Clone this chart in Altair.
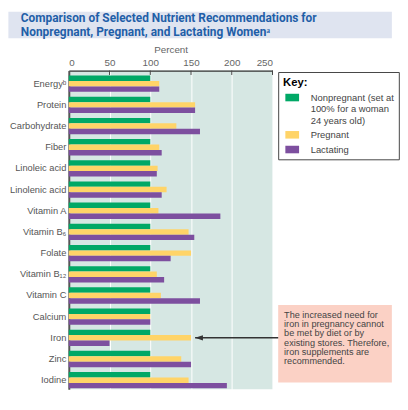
import pandas as pd
import altair as alt

# values (percent of the nonpregnant recommendation)
nutrients = ["Energyᵇ", "Protein", "Carbohydrate", "Fiber", "Linoleic acid",
             "Linolenic acid", "Vitamin A", "Vitamin B₆", "Folate", "Vitamin B₁₂",
             "Vitamin C", "Calcium", "Iron", "Zinc", "Iodine"]
nonpregnant = [100, 100, 100, 100, 100, 100, 100, 100, 100, 100, 100, 100, 100, 100, 100]
pregnant = [111, 155, 132, 111, 109, 120, 110, 147, 150, 108, 113, 100, 150, 138, 147]
lactating = [111, 155, 161, 114, 108, 114, 186, 154, 125, 117, 161, 100, 50, 150, 194]

groups = ["Nonpregnant", "Pregnant", "Lactating"]
group_colors = ["#00a866", "#ffd468", "#7d4f9f"]
key_lines = ["Nonpregnant (set at", "100% for a woman", "24 years old)"]
percent_ticks = [0, 50, 100, 150, 200, 250]

title_lines = ["Comparison of Selected Nutrient Recommendations for",
               "Nonpregnant, Pregnant, and Lactating Womenᵃ"]
note_lines = ["The increased need for", "iron in pregnancy cannot",
              "be met by diet or by", "existing stores. Therefore,",
              "iron supplements are", "recommended."]
note_nutrient = "Iron"
note_group = "Pregnant"
note_value = 155

FONT = "Liberation Sans"

# long table for the bars
rows = []
for g, vals in zip(groups, [nonpregnant, pregnant, lactating]):
    for n, v in zip(nutrients, vals):
        rows.append({"nutrient": n, "group": g, "v": v})
bars_df = pd.DataFrame(rows)

x_enc = alt.X(
    "v:Q",
    scale=alt.Scale(domain=[0, 250], nice=False),
    axis=alt.Axis(orient="top", values=percent_ticks, title="Percent", grid=True,
                  gridColor="white", gridWidth=1, ticks=False, domainColor="#333",
                  domainWidth=1.2, labelFont=FONT, labelFontSize=10, labelColor="#666",
                  labelPadding=3.5, titleFont=FONT, titleFontSize=10,
                  titleFontWeight="normal", titleColor="#666", titlePadding=2.4),
)
y_enc = alt.Y(
    "nutrient:N",
    sort=nutrients,
    scale=alt.Scale(paddingInner=0.23, paddingOuter=0.14, align=0.84),
    axis=alt.Axis(title=None, ticks=False, domainColor="#555", domainWidth=2,
                  labelFont=FONT, labelFontSize=9.5, labelColor="#555", labelPadding=3),
)
y_off = alt.YOffset("group:N", sort=groups,
                    scale=alt.Scale(domain=groups, paddingInner=0, paddingOuter=0))

label_expr = "datum.label == '%s' ? [%s] : datum.label" % (
    groups[0], ", ".join("'%s'" % s for s in key_lines))

color_enc = alt.Color(
    "group:N",
    scale=alt.Scale(domain=groups, range=group_colors),
    legend=alt.Legend(title="Key:", orient="none", legendX=213.5, legendY=1.5,
                      fillColor="white", strokeColor="#444", padding=5, cornerRadius=0,
                      titleFont=FONT, titleFontSize=11.5, titleFontWeight="bold",
                      titleColor="black", titlePadding=0,
                      labelFont=FONT, labelFontSize=9.6, labelColor="#444",
                      labelOffset=14, labelBaseline="top", labelLimit=200,
                      labelExpr=label_expr,
                      symbolType="M-2,0.25H2V2.45H-2Z", symbolSize=49, symbolOffset=4.5,
                      symbolStrokeWidth=0, symbolOpacity=1, rowPadding=-2),
)

bars = alt.Chart(bars_df).mark_bar().encode(
    x=x_enc, y=y_enc, yOffset=y_off, color=color_enc,
    tooltip=["nutrient", "group", "v"],
)

# inward tick marks under the top axis line
ticks = alt.Chart(pd.DataFrame({"v": percent_ticks[1:]})).mark_rule(
    color="#444", strokeWidth=1
).encode(x=x_enc, y=alt.value(0), y2=alt.value(4.5))

one = pd.DataFrame({"k": [0]})

banner = alt.Chart(one).mark_rect(color="#dfe4f0").encode(
    x=alt.value(-61.6), x2=alt.value(329.4), y=alt.value(-60), y2=alt.value(-33)
)
title = alt.Chart(one).mark_text(
    text=title_lines, align="left", baseline="top", font="Roboto", fontSize=12.1,
    fontWeight="bold", color="#1f5fa8", lineHeight=13.5
).encode(x=alt.value(-48.9), y=alt.value(-59))

note_box = alt.Chart(one).mark_rect(color="#fbd1c5").encode(
    x=alt.value(213.5), x2=alt.value(329.4), y=alt.value(239), y2=alt.value(318)
)
note_text = alt.Chart(one).mark_text(
    text=note_lines, align="left", baseline="top", font=FONT, fontSize=9.3,
    lineHeight=9.5, color="#444"
).encode(x=alt.value(219.5), y=alt.value(245))

arrow_df = pd.DataFrame({"nutrient": [note_nutrient], "group": [note_group], "v": [note_value]})
arrow = alt.Chart(arrow_df).mark_rule(color="#333", strokeWidth=1.5).encode(
    x=x_enc, x2=alt.value(213.5), y=y_enc, yOffset=y_off
)
head = alt.Chart(arrow_df).mark_point(
    shape="M-1,0L1,-0.65L1,0.65Z", filled=True, size=64, color="#333",
    opacity=1, xOffset=4
).encode(x=x_enc, y=y_enc, yOffset=y_off)

chart = alt.layer(
    banner, title, bars, ticks, note_box, note_text, arrow, head
).properties(
    width=207.7, height=325, padding=0
).configure_view(
    fill="#d6e7e3", strokeWidth=0
)

chart.save("out.html", embed_options={"renderer": "svg", "actions": False})
